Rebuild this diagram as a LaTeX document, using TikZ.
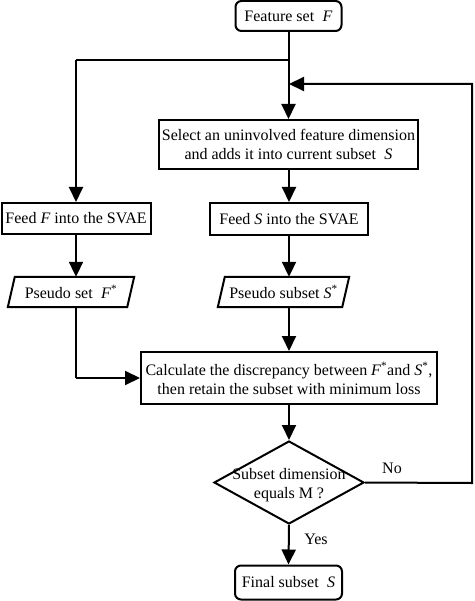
\documentclass[tikz,border=0pt]{standalone}
\usepackage{fontspec}
\setmainfont{Liberation Serif}
\usetikzlibrary{arrows.meta,shapes.geometric}
\newcommand{\mv}[1]{\textit{#1}}
\begin{document}
\begin{tikzpicture}[x=1pt,y=-1pt,
  every node/.style={font=\fontsize{16}{18.7}\selectfont},
  line/.style={line width=2pt},
  arr/.style={line width=2pt,-{Triangle[length=15pt,width=14pt]}},
  procbox/.style={draw,line width=2pt,rectangle,inner sep=0pt,align=center},
  termbox/.style={draw,line width=2pt,rectangle,rounded corners=6pt,inner sep=0pt,align=center},
  iobox/.style={rectangle,inner sep=0pt,align=center}
]
\useasboundingbox (0,0) rectangle (474,601);
% nodes
\node[termbox,minimum width=106pt,minimum height=30pt] (feat) at (288.5,16) {Feature set \;\mv{F}};
\node[procbox,minimum width=259pt,minimum height=49pt] (sel) at (288.5,144.5) {Select an uninvolved feature dimension\\and adds it into current subset \;\mv{S}};
\node[procbox,minimum width=149pt,minimum height=31pt] (feedF) at (76,218.5) {Feed \mv{F} into the SVAE};
\node[procbox,minimum width=158pt,minimum height=32pt] (feedS) at (289,219) {Feed \mv{S} into the SVAE};
\node[iobox,minimum width=119pt,minimum height=30pt] (pseF) at (71,292) {Pseudo set \;\mv{F}\textsuperscript{*}};
\draw[line] ([xshift=3.5pt]pseF.north west) -- ([xshift=3.5pt]pseF.north east) -- ([xshift=-3.5pt]pseF.south east) -- ([xshift=-3.5pt]pseF.south west) -- cycle;
\node[iobox,minimum width=124pt,minimum height=30pt] (pseS) at (283.5,292) {Pseudo subset \mv{S}\textsuperscript{*}};
\draw[line] ([xshift=3.5pt]pseS.north west) -- ([xshift=3.5pt]pseS.north east) -- ([xshift=-3.5pt]pseS.south east) -- ([xshift=-3.5pt]pseS.south west) -- cycle;
\node[procbox,minimum width=296pt,minimum height=52pt] (calc) at (289,378) {Calculate the discrepancy between \mv{F}\textsuperscript{*}and \mv{S}\textsuperscript{*},\\then retain the subset with minimum loss};
\node[diamond,draw,line width=2pt,inner sep=0pt,minimum width=150pt,minimum height=83pt] (dec) at (289,482.5) {};
\node[align=center,inner sep=0pt] (dectext) at (289,485) {Subset dimension\\equals M ?};
\node[termbox,minimum width=107pt,minimum height=34pt] (fin) at (288.5,582.5) {Final subset \;\mv{S}};
\node[inner sep=0pt] (yes) at (316,539) {Yes};
\node[inner sep=0pt] (no) at (392,468) {No};
% coordinates
\coordinate (br) at (289,60);
\coordinate (brl) at (76,60);
\coordinate (lp) at (289,84);
\coordinate (rt) at (472,84);
\coordinate (rb) at (472,483);
\coordinate (lc) at (76,378);
% connectors
\draw[arr] (feat.south -| sel.north) -- (sel.north);
\draw[line] (br) -- (brl);
\draw[arr] (brl) -- (feedF.north);
\draw[arr] (dec.east) -- (rb) -- (rt) -- (lp);
\draw[arr] (sel.south -| feedS.north) -- (feedS.north);
\draw[arr] (feedS.south) -- (feedS.south |- pseS.north);
\draw[arr] (feedF.south) -- (feedF.south |- pseF.north);
\draw[arr] (feedS.south |- pseS.south) -- (feedS.south |- calc.north);
\draw[line] (feedF.south |- pseF.south) -- (lc);
\draw[arr] (lc) -- (calc.west);
\draw[arr] (calc.south) -- (dec.north);
\draw[arr] (dec.south) -- (fin.north);
\end{tikzpicture}
\end{document}
